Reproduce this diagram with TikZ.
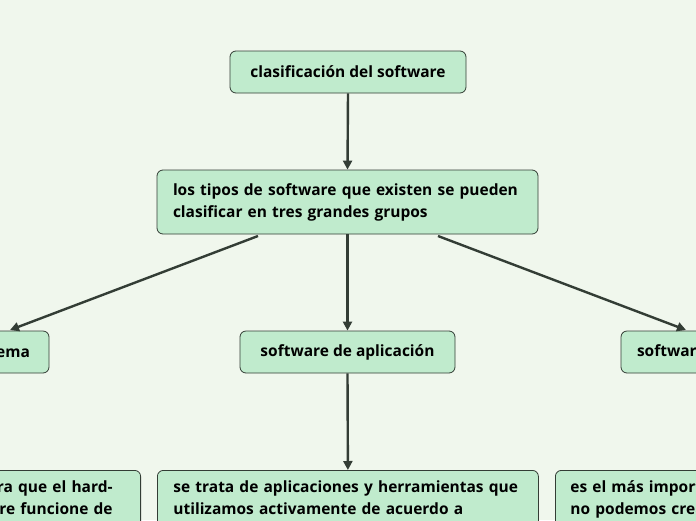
\documentclass[tikz,border=0pt]{standalone}
\usepackage{fontspec}
\setmainfont{Open Sans}
\usetikzlibrary{arrows.meta}
\definecolor{bg}{HTML}{F0F7ED}
\definecolor{boxf}{HTML}{C0EBCD}
\definecolor{ln}{HTML}{333D35}
\tikzset{
 box/.style={draw=ln,fill=boxf,rounded corners=6pt,line width=0.8pt,font=\bfseries\fontsize{15.5}{22}\selectfont,text=black,inner ysep=0pt},
 conn/.style={draw=ln,line width=2.4pt,-{Triangle[length=9pt,width=9pt]}}
}
\newcommand{\padbelow}{\\\mbox{}\\\mbox{}\\\mbox{}}
\begin{document}
\begin{tikzpicture}[x=1pt,y=-1pt]
\useasboundingbox (0,0) rectangle (696,520);
\fill[bg] (0,0) rectangle (696,520);
\clip (0,0) rectangle (696,520);
\node[box,minimum width=236pt,minimum height=42pt] (n1) at (348,72) {clasificación del software};
\node[box,minimum width=381pt,minimum height=64pt,inner xsep=16pt,text width=349pt,align=left] (n2) at (347.5,202) {los tipos de software que existen se pueden\\clasificar en tres grandes grupos};
\node[box,minimum width=200pt,minimum height=42pt,inner xsep=19pt,text width=162pt,align=right] (m1) at (-51,352) {software de sistema};
\node[box,minimum width=215pt,minimum height=42pt] (m2) at (347.5,352) {software de aplicación};
\node[box,minimum width=280pt,minimum height=42pt,inner xsep=16pt,text width=248pt,align=left] (m3) at (761,352) {software de programación};
\node[box,anchor=north east,minimum width=360pt,inner xsep=28pt,inner ysep=10pt,text width=304pt,align=right] (b1) at (141,470) {sirve para que el hardware funcione de\padbelow};
\node[box,anchor=north west,minimum width=381pt,inner xsep=16pt,inner ysep=10pt,text width=349pt,align=left] (b2) at (157,470) {se trata de aplicaciones y herramientas que\\utilizamos activamente de acuerdo a\padbelow};
\node[box,anchor=north west,minimum width=340pt,inner xsep=15pt,inner ysep=10pt,text width=310pt,align=left] (b3) at (555,470) {es el más importante ya que sin él\\no podemos crear otros programas\padbelow};
\coordinate (s1) at (258,236);
\coordinate (s3) at (438,236);
\coordinate (e1) at (10,330);
\coordinate (e3) at (686,330);
\draw[conn] (n1.south) -- (n2.north);
\draw[conn] (s1) -- (e1);
\draw[conn] (n2.south) -- (m2.north);
\draw[conn] (s3) -- (e3);
\draw[conn] (m2.south) -- (b2.north);
\end{tikzpicture}
\end{document}
